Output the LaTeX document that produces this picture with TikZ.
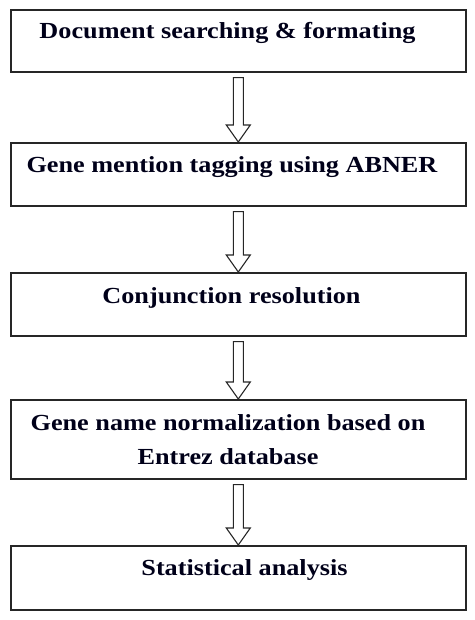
\documentclass[tikz,border=0pt]{standalone}
\usepackage{fontspec}
\setmainfont{Liberation Serif}
\newfontfamily\lblfont[FakeStretch=1.14]{Liberation Serif}
\usetikzlibrary{calc}
\begin{document}
\begin{tikzpicture}[x=1pt,y=-1pt,
  box/.style={draw=black!85, line width=1.6pt, minimum width=455pt, inner sep=0pt, anchor=north west},
  lbl/.style={font=\lblfont\fontsize{23}{34}\selectfont\bfseries, text=black!90!blue, inner sep=0pt, align=center},
  hollow/.style={draw=black!85, line width=1.1pt, to path={let \p1=(\tikztostart), \p2=(\tikztotarget) in
    (\x1-5pt,\y1-5pt) -- (\x1-5pt,\y2+17pt) -- (\x1-12pt,\y2+17pt) -- (\x2,\y2) -- (\x1+12pt,\y2+17pt) -- (\x1+5pt,\y2+17pt) -- (\x1+5pt,\y1-5pt) -- cycle}}]
\useasboundingbox (0,0) rectangle (474,620);
\node[box, minimum height=62pt] (b1) at (10,9) {};
\node[box, minimum height=63pt] (b2) at (10,142) {};
\node[box, minimum height=63pt] (b3) at (10,272) {};
\node[box, minimum height=79pt] (b4) at (10,399) {};
\node[box, minimum height=64pt] (b5) at (10,545) {};
\node[lbl] (t1) at (227.5,33) {Document searching \& formating};
\node[lbl] (t2) at (232,167) {Gene mention tagging using ABNER};
\node[lbl] (t3) at (231.5,298) {Conjunction resolution};
\node[lbl] (t4) at (228,440) {Gene name normalization based on\\Entrez database};
\node[lbl] (t5) at (244.5,570) {Statistical analysis};
\draw[hollow] (b1.south) to (b2.north);
\draw[hollow] (b2.south) to (b3.north);
\draw[hollow] (b3.south) to (b4.north);
\draw[hollow] (b4.south) to (b5.north);
\end{tikzpicture}
\end{document}
